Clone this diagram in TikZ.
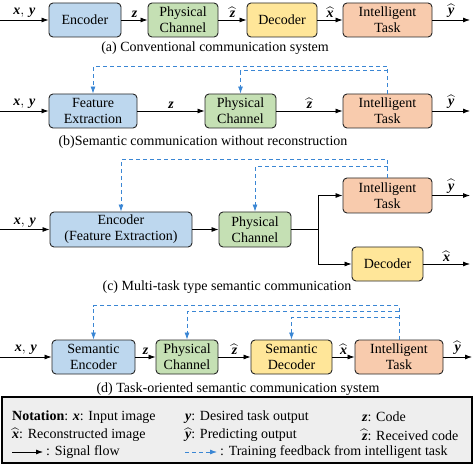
\documentclass[tikz,border=0pt]{standalone}
\usepackage{amsmath}
\usepackage{fontspec}
\setmainfont{Liberation Serif}
\usetikzlibrary{arrows.meta}

\definecolor{encblue}{HTML}{BDD7EE}
\definecolor{chgreen}{HTML}{C5E0B4}
\definecolor{decyellow}{HTML}{FFE699}
\definecolor{taskorange}{HTML}{F8CBAD}
\definecolor{fbblue}{HTML}{3A86D4}
\definecolor{notegray}{HTML}{EEEEEE}

\newcommand{\symx}{\text{\bfseries\itshape x}}
\newcommand{\symy}{\text{\bfseries\itshape y}}
\newcommand{\symz}{\text{\bfseries\itshape z}}
\newcommand{\hatx}{\widehat{\symx}}
\newcommand{\haty}{\widehat{\symy}}
\newcommand{\hatz}{\widehat{\symz}}

\tikzset{
  blk/.style={draw=black!85, line width=0.9pt, rounded corners=4pt, align=center,
    inner sep=0pt, minimum height=34pt, font=\fontsize{14}{16}\selectfont},
  encbox/.style={blk, fill=encblue},
  chbox/.style={blk, fill=chgreen},
  decbox/.style={blk, fill=decyellow},
  taskbox/.style={blk, fill=taskorange},
  sig/.style={-{Latex[length=7pt,width=5pt]}, line width=0.8pt},
  fb/.style={-{Latex[length=7pt,width=5pt]}, fbblue, line width=0.8pt, dash pattern=on 4pt off 3pt},
  lbl/.style={above=1.5pt, inner sep=0.5pt, font=\fontsize{14}{14}\selectfont},
  captext/.style={font=\fontsize{14}{14}\selectfont},
  note/.style={anchor=west, inner sep=0pt, font=\fontsize{14}{14}\selectfont}
}

\begin{document}
\begin{tikzpicture}[x=1pt,y=-1pt]
  \useasboundingbox (0,0) rectangle (474,465);
  % (a)
  \node[encbox, minimum width=72pt] (encA) at (85,20) {Encoder};
  \node[chbox, minimum width=70pt] (chA) at (183,20) {Physical\\Channel};
  \node[decbox, minimum width=70pt] (decA) at (282,20) {Decoder};
  \node[taskbox, minimum width=89pt] (taskA) at (387.5,20) {Intelligent\\Task};
  \coordinate (inA) at (0,20);
  \coordinate (outA) at (470,20);
  \draw[sig] (inA) -- node[lbl] {$\symx,\,\symy$} (encA);
  \draw[sig] (encA) -- node[lbl] {$\symz$} (chA);
  \draw[sig] (chA) -- node[lbl] {$\hatz$} (decA);
  \draw[sig] (decA) -- node[lbl] {$\hatx$} (taskA);
  \draw[sig] (taskA) -- node[lbl] {$\haty$} (outA);
  \node[captext] (capA) at (215,48) {(a) Conventional communication system};

  % (b)
  \node[encbox, minimum width=88pt] (feB) at (93,111) {Feature\\Extraction};
  \node[chbox, minimum width=71pt] (chB) at (240.5,111) {Physical\\Channel};
  \node[taskbox, minimum width=89pt] (taskB) at (387.5,111) {Intelligent\\Task};
  \coordinate (inB) at (0,111);
  \coordinate (outB) at (470,111);
  \draw[sig] (inB) -- node[lbl] {$\symx,\,\symy$} (feB);
  \draw[sig] (feB) -- node[lbl] {$\symz$} (chB);
  \draw[sig] (chB) -- node[lbl] {$\hatz$} (taskB);
  \draw[sig] (taskB) -- node[lbl] {$\haty$} (outB);
  \draw[fb] (taskB.north) -- ++(0,-27) -| (feB.north);
  \draw[fb] (taskB.north) ++(0,-23) -| (chB.north);
  \node[captext] (capB) at (203,142) {(b)Semantic communication without reconstruction};

  % (c)
  \node[encbox, minimum width=142pt, minimum height=35pt] (encC) at (121,229.5) {Encoder\\(Feature Extraction)};
  \node[chbox, minimum width=72pt, minimum height=35pt] (chC) at (255,229.5) {Physical\\Channel};
  \node[taskbox, minimum width=89pt, minimum height=35pt] (taskC) at (387.5,195.5) {Intelligent\\Task};
  \node[decbox, minimum width=71pt] (decC) at (387.5,264) {Decoder};
  \coordinate (inC) at (0,229.5);
  \coordinate (splitC) at (318,229.5);
  \coordinate (outC1) at (470,195.5);
  \coordinate (outC2) at (470,264);
  \draw[sig] (inC) -- node[lbl] {$\symx,\,\symy$} (encC);
  \draw[sig] (encC) -- (chC);
  \draw[line width=0.8pt] (chC) -- (splitC);
  \draw[sig] (splitC) |- (taskC);
  \draw[sig] (splitC) |- (decC);
  \draw[sig] (taskC) -- node[lbl] {$\haty$} (outC1);
  \draw[sig] (decC) -- node[lbl] {$\hatx$} (outC2);
  \draw[fb] (taskC.north) -- ++(0,-18) -| (encC.north);
  \draw[fb] (taskC.north) ++(0,-11) -| (chC.north);
  \node[captext] (capC) at (227,287) {(c) Multi-task type semantic communication};

  % (d)
  \node[encbox, minimum width=83pt] (encD) at (93.5,357) {Semantic\\Encoder};
  \node[chbox, minimum width=62pt] (chD) at (187,357) {Physical\\Channel};
  \node[decbox, minimum width=81pt] (decD) at (291.5,357) {Semantic\\Decoder};
  \node[taskbox, minimum width=88pt] (taskD) at (399,357) {Intelligent\\Task};
  \coordinate (inD) at (0,357);
  \coordinate (outD) at (472,357);
  \draw[sig] (inD) -- node[lbl] {$\symx,\,\symy$} (encD);
  \draw[sig] (encD) -- node[lbl] {$\symz$} (chD);
  \draw[sig] (chD) -- node[lbl] {$\hatz$} (decD);
  \draw[sig] (decD) -- node[lbl] {$\hatx$} (taskD);
  \draw[sig] (taskD) -- node[lbl] {$\haty$} (outD);
  \draw[fb] (taskD.north) -- ++(0,-34) -| (encD.north);
  \draw[fb] (taskD.north) ++(0,-28) -| (chD.north);
  \draw[fb] (taskD.north) ++(0,-22) -| (decD.north);
  \node[captext] (capD) at (238,389) {(d) Task-oriented semantic communication system};

  % Notation
  \draw[line width=1.2pt, fill=notegray] (2,397) rectangle (472,463);
  \node[note] (n1) at (12,417) {\textbf{Notation}: $\symx$: Input image};
  \node[note] (n2) at (185,417) {$\symy$: Desired task output};
  \node[note] (n3) at (362,417) {$\symz$: Code};
  \node[note] (n4) at (12,435) {$\hatx$: Reconstructed image};
  \node[note] (n5) at (185,435) {$\haty$: Predicting output};
  \node[note] (n6) at (362,435) {$\hatz$: Received code};
  \coordinate (sigL) at (12,452);
  \coordinate (sigR) at (43,452);
  \coordinate (fbL) at (185,452);
  \coordinate (fbR) at (217,452);
  \draw[sig] (sigL) -- (sigR);
  \draw[fb] (fbL) -- (fbR);
  \node[note] (n7) at (46,452) {: Signal flow};
  \node[note] (n8) at (220,452) {: Training feedback from intelligent task};
\end{tikzpicture}
\end{document}
